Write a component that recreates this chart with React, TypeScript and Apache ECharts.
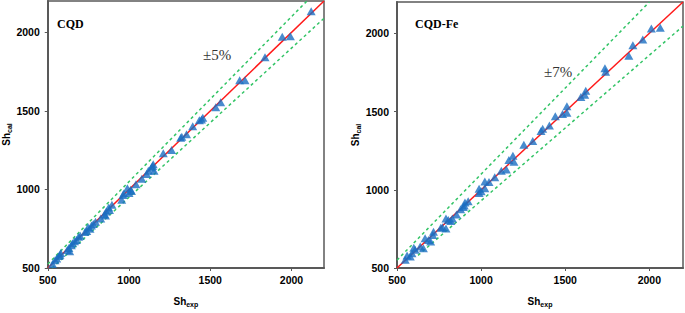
import React, { useEffect, useRef } from "react";
import * as echarts from "echarts";

// CQD panel: experimental vs calculated Sherwood numbers
const cqdExp = [2121, 1943, 1993, 1837, 1681, 1714, 1564, 1534, 1454, 1446, 1433, 1392, 1354, 1318, 1325, 1262, 1211, 1149, 1145, 1154, 1138, 1119, 1109, 1079, 1043, 1010, 990, 1000, 1015, 963, 955, 968, 895, 875, 880, 860, 849, 855, 826, 794, 780, 769, 760, 748, 740, 729, 700, 690, 677, 665, 652, 645, 630, 635, 620, 580, 575, 570, 555, 545, 529];
const cqdCal = [2135, 1972, 1975, 1842, 1695, 1695, 1555, 1524, 1456, 1445, 1440, 1403, 1352, 1329, 1335, 1251, 1230, 1161, 1150, 1119, 1140, 1119, 1098, 1068, 1033, 998, 1008, 978, 990, 965, 935, 975, 902, 885, 870, 860, 843, 835, 815, 795, 780, 771, 750, 760, 735, 730, 705, 699, 679, 670, 658, 645, 627, 606, 615, 596, 585, 576, 560, 549, 525];

// CQD-Fe panel
const feExp = [2065, 2012, 1961, 1902, 1878, 1736, 1740, 1622, 1616, 1593, 1510, 1510, 1484, 1441, 1406, 1366, 1356, 1307, 1254, 1195, 1189, 1165, 1150, 1120, 1081, 1047, 1022, 1022, 988, 988, 1000, 923, 904, 900, 894, 878, 854, 829, 820, 805, 791, 791, 770, 760, 717, 713, 700, 687, 667, 657, 638, 608, 600, 589, 579, 560, 549];
const feCal = [2036, 2030, 1960, 1924, 1857, 1776, 1755, 1633, 1608, 1593, 1534, 1492, 1485, 1470, 1411, 1390, 1376, 1312, 1287, 1179, 1217, 1190, 1129, 1122, 1080, 1049, 1053, 1010, 1006, 979, 990, 926, 918, 900, 890, 876, 842, 816, 800, 806, 816, 753, 760, 757, 732, 711, 670, 679, 690, 627, 637, 616, 630, 595, 574, 580, 553];

// Reference lines (parity and deviation bands), end points
const parityLine = [[500, 500], [2200, 2200]];
const cqdUpper = [[500, 525], [2095, 2200]];
const cqdLower = [[526, 500], [2200, 2090]];
const feUpper = [[500, 550], [2000, 2200]];
const feLower = [[625, 581], [2200, 2046]];

const axisTicks = [500, 1000, 1500, 2000];
const axisMin = 500;
const axisMax = 2200;

const zip = (a: number[], b: number[]) => a.map((v, i) => [v, b[i]]);

export default function App() {
  const ref = useRef<HTMLDivElement>(null);
  useEffect(() => {
    if (!ref.current) return;
    const chart = echarts.init(ref.current, undefined, { renderer: "svg" });
    const axisColor = "#595959";
    const labelStyle = {
      fontFamily: "Liberation Sans, Arial, sans-serif",
      fontWeight: "bold" as const,
      fontSize: 10.5,
      color: "#000",
    };
    const rich = {
      a: { fontFamily: "Liberation Sans, Arial", fontWeight: "bold", fontSize: 10, color: "#000" },
      b: { fontFamily: "Liberation Sans, Arial", fontWeight: "bold", fontSize: 7, color: "#000", verticalAlign: "bottom", padding: [6, 0, 0, 0] },
    };
    const mkX = (gridIndex: number) => ({
      type: "value" as const,
      gridIndex,
      min: axisMin,
      max: axisMax,
      interval: 500,
      name: "{a|Sh}{b|exp}",
      nameLocation: "middle" as const,
      nameGap: 27,
      nameTextStyle: { rich },
      splitLine: { show: false },
      axisLine: { lineStyle: { color: axisColor, width: 2 } },
      axisTick: { show: true, inside: false, length: 3, lineStyle: { color: axisColor } },
      axisLabel: {
        ...labelStyle,
        margin: 6,
        showMaxLabel: false,
        formatter: (v: number) => (axisTicks.includes(v) ? String(v) : ""),
      },
    });
    const mkY = (gridIndex: number, gap: number) => ({
      type: "value" as const,
      gridIndex,
      min: axisMin,
      max: axisMax,
      interval: 500,
      name: "{a|Sh}{b|cal}",
      nameLocation: "middle" as const,
      nameGap: gap,
      nameRotate: 90,
      nameTextStyle: { rich },
      splitLine: { show: false },
      axisLine: { lineStyle: { color: axisColor, width: 2 } },
      axisTick: { show: true, inside: false, length: 3, lineStyle: { color: axisColor } },
      axisLabel: {
        ...labelStyle,
        margin: 8,
        showMaxLabel: false,
        formatter: (v: number) => (axisTicks.includes(v) ? String(v) : ""),
      },
    });
    const lineSeries = (data: number[][], idx: number, dashed: boolean) => ({
      type: "line" as const,
      xAxisIndex: idx,
      yAxisIndex: idx,
      data,
      showSymbol: false,
      silent: true,
      z: dashed ? 2 : 3,
      lineStyle: dashed
        ? { color: "#33C466", width: 1.5, type: [3, 3] as number[] }
        : { color: "#FF1A1A", width: 1.5 },
    });
    const scatter = (data: number[][], idx: number) => ({
      type: "scatter" as const,
      xAxisIndex: idx,
      yAxisIndex: idx,
      data,
      symbol: "triangle",
      symbolSize: [9, 8],
      z: 4,
      itemStyle: { color: "#1A6EC2" },
    });
    chart.setOption({
      animation: false,
      backgroundColor: "#fff",
      grid: [
        { left: 40, top: 1, width: 284, height: 276, show: true, borderColor: axisColor, borderWidth: 1.5 },
        { left: 397, top: 2, width: 286, height: 268, show: true, borderColor: axisColor, borderWidth: 1.5 },
      ],
      xAxis: [mkX(0), mkX(1)],
      yAxis: [mkY(0, 31), mkY(1, 28)],
      series: [
        lineSeries(cqdUpper, 0, true),
        lineSeries(cqdLower, 0, true),
        lineSeries(parityLine, 0, false),
        scatter(zip(cqdExp, cqdCal), 0),
        lineSeries(feUpper, 1, true),
        lineSeries(feLower, 1, true),
        lineSeries(parityLine, 1, false),
        scatter(zip(feExp, feCal), 1),
      ],
      graphic: [
        { type: "text", left: 57, top: 18, style: { text: "CQD", font: "bold 12px 'Liberation Serif', 'Times New Roman', serif", fill: "#000" } },
        { type: "text", left: 203, top: 47, style: { text: "±5%", font: "15px 'Liberation Serif', 'Times New Roman', serif", fill: "#333" } },
        { type: "text", left: 415, top: 18, style: { text: "CQD-Fe", font: "bold 12px 'Liberation Serif', 'Times New Roman', serif", fill: "#000" } },
        { type: "text", left: 544, top: 64, style: { text: "±7%", font: "15px 'Liberation Serif', 'Times New Roman', serif", fill: "#333" } },
      ],
    });
    return () => chart.dispose();
  }, []);
  return (
    <div style={{ position: "fixed", left: 0, top: 0, width: 685, height: 313, background: "#fff" }}>
      <div ref={ref} style={{ width: 685, height: 313 }} />
    </div>
  );
}
